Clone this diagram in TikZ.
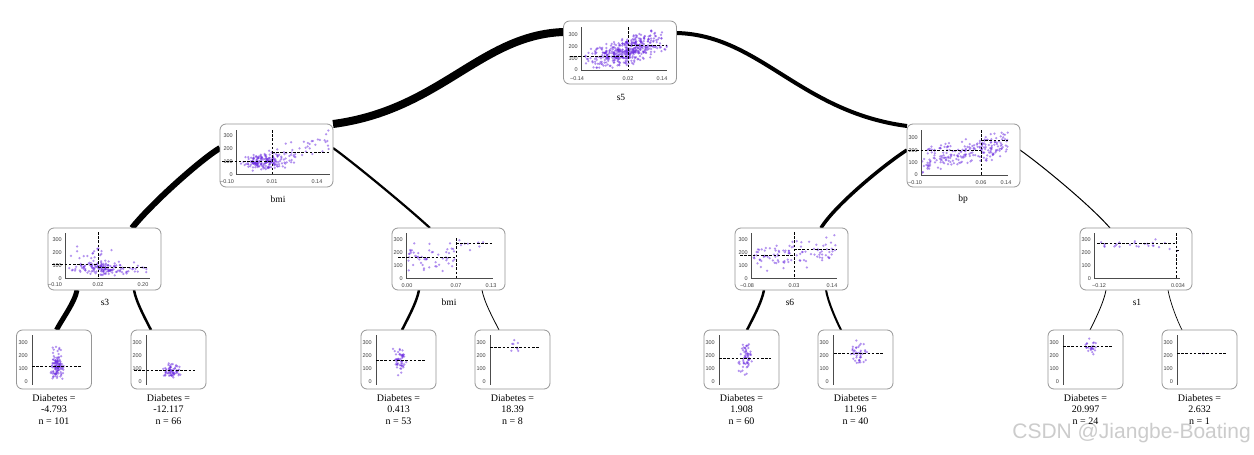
\documentclass[tikz,border=0pt]{standalone}
\usepackage{fontspec}
\setmainfont{Liberation Serif}
\setsansfont{Liberation Sans}
\usetikzlibrary{backgrounds}
\definecolor{pts}{RGB}{105,40,225}
\definecolor{boxc}{RGB}{150,150,150}
\newcommand{\drawscat}[9]{% N, xa, xb, y0, scale, c0, c1, noise, t-expression
  \foreach \sci in {1,...,#1}{%
    \pgfmathsetmacro{\myT}{#9}%
    \pgfmathsetmacro{\myX}{#2+(#3-#2)*\myT}%
    \pgfmathsetmacro{\myV}{max(20,min(345,#6+#7*\myT+#8*(rnd+rnd-1)))}%
    \fill[dotpt] (\myX,{#4-#5*\myV}) circle[radius=1.25];%
  }}
\newcommand{\ylabs}[4]{% xright, y0, scale, prefix
  \foreach \yv in {0,100,200,300}{\node[tk,anchor=east] (#4\yv) at (#1,{#2-#3*\yv}) {\yv};}}
\newcommand{\leafaxis}[2]{% left x, prefix
  \draw[axl] ({#1+15},335) -- ({#1+15},385);
  \ylabs{#1+11}{381.7}{0.1313}{#2}}
\begin{document}
\begin{tikzpicture}[x=1pt,y=-1pt,
  ibox/.style={draw=boxc, line width=0.8pt, rounded corners=6pt, fill=white, minimum width=113pt, minimum height=63pt, inner sep=0pt, outer sep=0pt},
  lbox/.style={ibox, minimum width=75pt, minimum height=59pt},
  edge/.style={draw=black, line cap=butt},
  dotpt/.style={fill=pts, fill opacity=0.5},
  axl/.style={draw=black!70, line width=0.9pt},
  dsh/.style={draw=black, line width=0.9pt, dash pattern=on 2.6pt off 1.6pt},
  tk/.style={font=\sffamily\fontsize{5.5}{6}\selectfont, text=black!75, inner sep=0pt},
  lab/.style={font=\fontsize{9.5}{11}\selectfont, inner sep=0pt},
  leaftxt/.style={font=\fontsize{10}{11.5}\selectfont, align=center, inner sep=0pt}]
\pgfmathsetseed{42}
\useasboundingbox (0,0) rectangle (1254,455);
\begin{scope}[on background layer]
\fill[white] (0,0) rectangle (1254,455);
\end{scope}

% watermark
\node[font=\sffamily\fontsize{21}{24}\selectfont, text=black!20, anchor=east, inner sep=0pt] (wm) at (1251,433) {CSDN @Jiangbe-Boating};

% boxes
\node[ibox] (root) at (620,52.5) {};
\node[ibox] (bmi) at (276.5,155.5) {};
\node[ibox] (bp) at (963.5,155.5) {};
\node[ibox, minimum height=62pt] (s3) at (104.5,259) {};
\node[ibox, minimum height=62pt] (bmiB) at (448.5,259) {};
\node[ibox, minimum height=62pt] (s6) at (791.5,259) {};
\node[ibox, minimum height=62pt, minimum width=112pt] (s1) at (1136,259) {};
\node[lbox] (L1) at (54,359.5) {};
\node[lbox] (L2) at (168.5,359.5) {};
\node[lbox] (L3) at (398.5,359.5) {};
\node[lbox] (L4) at (512.5,359.5) {};
\node[lbox] (L5) at (741.5,359.5) {};
\node[lbox] (L6) at (855.5,359.5) {};
\node[lbox] (L7) at (1085.5,359.5) {};
\node[lbox] (L8) at (1199.5,359.5) {};

% edges
\begin{scope}[on background layer]
\draw[edge, line width=8pt] ([yshift=-11pt]root.north west) .. controls +(-83,3) and +(107,-14) .. (bmi.north east);
\draw[edge, line width=4pt] ([yshift=-12pt]root.north east) .. controls +(83,2) and +(-107,-14) .. ([yshift=-2pt]bp.north west);
\draw[edge, line width=6pt] ([yshift=-24pt]bmi.north west) .. controls +(-20,12) and +(18,-23) .. ([xshift=-29pt]s3.north east);
\draw[edge, line width=2.2pt] ([yshift=-24pt]bmi.north east) .. controls +(17,12) and +(-25,-23) .. ([xshift=38pt]bmiB.north west);
\draw[edge, line width=3.5pt] ([yshift=-26pt]bp.north west) .. controls +(-22,14) and +(14,-23) .. ([xshift=-27pt]s6.north east);
\draw[edge, line width=1pt] ([yshift=-26pt]bp.north east) .. controls +(20,14) and +(-20,-23) .. ([xshift=30pt]s1.north west);
\draw[edge, line width=5pt] ([xshift=29pt]s3.south west) .. controls +(-2,12) and +(5,-10) .. ([xshift=40pt]L1.north west);
\draw[edge, line width=2.5pt] ([xshift=-27pt]s3.south east) .. controls +(2,12) and +(-5,-10) .. ([xshift=20pt]L2.north west);
\draw[edge, line width=2.5pt] ([xshift=27pt]bmiB.south west) .. controls +(-2,12) and +(5,-10) .. ([xshift=41pt]L3.north west);
\draw[edge, line width=0.8pt] ([xshift=-23pt]bmiB.south east) .. controls +(2,12) and +(-5,-10) .. ([xshift=24pt]L4.north west);
\draw[edge, line width=2.5pt] ([xshift=29pt]s6.south west) .. controls +(-2,12) and +(5,-10) .. ([xshift=43pt]L5.north west);
\draw[edge, line width=2pt] ([xshift=-22pt]s6.south east) .. controls +(2,12) and +(-5,-10) .. ([xshift=23pt]L6.north west);
\draw[edge, line width=0.8pt] ([xshift=26pt]s1.south west) .. controls +(-2,12) and +(5,-10) .. ([xshift=42pt]L7.north west);
\draw[edge, line width=0.7pt] ([xshift=-24pt]s1.south east) .. controls +(2,12) and +(-5,-10) .. ([xshift=20pt]L8.north west);
\end{scope}

% ---- root s5
\drawscat{440}{583}{668}{70}{0.1167}{60}{200}{130}{(rnd+rnd)/2}
\draw[axl] (581,27) -- (581,70) -- (667,70);
\ylabs{578}{70}{0.1167}{ry}
\node[tk] (rx1) at (577,79) {−0.14};
\node[tk] (rx2) at (628,79) {0.02};
\node[tk] (rx3) at (662,79) {0.14};
\draw[dsh] (628,27) -- (628,70);
\draw[dsh] (570,56.7) -- (628,56.7);
\draw[dsh] (628,45) -- (667,45);
\node[lab] (s5lab) at (621,97) {s5};

% ---- bmi
\drawscat{170}{238}{295}{174.3}{0.1287}{70}{60}{75}{(rnd+rnd)/2}
\drawscat{50}{255}{330}{174.3}{0.1287}{100}{160}{110}{rnd}
\draw[axl] (236,130) -- (236,174.3) -- (330,174.3);
\ylabs{233}{174.3}{0.1287}{by}
\node[tk] (bx1) at (227,182) {−0.10};
\node[tk] (bx2) at (272,182) {0.01};
\node[tk] (bx3) at (317,182) {0.14};
\draw[dsh] (272,130) -- (272,174.3);
\draw[dsh] (222,161.4) -- (272,161.4);
\draw[dsh] (272,152.3) -- (330,152.3);
\node[lab] (bmilab) at (278,199) {bmi};

% ---- bp
\drawscat{220}{922}{1008}{175}{0.1233}{110}{150}{120}{rnd}
\draw[axl] (921,130) -- (921,175) -- (1008,175);
\ylabs{918}{175}{0.1233}{py}
\node[tk] (px1) at (915,182.7) {−0.10};
\node[tk] (px2) at (981,182.7) {0.06};
\node[tk] (px3) at (1006,182.7) {0.14};
\draw[dsh] (981,130) -- (981,175);
\draw[dsh] (908,150.3) -- (981,150.3);
\draw[dsh] (981,140.7) -- (1008,140.7);
\node[lab] (bplab) at (963,199) {bp};

% ---- s3
\drawscat{130}{66}{140}{278.3}{0.1277}{80}{0}{65}{(rnd+rnd)/2}
\drawscat{25}{70}{112}{278.3}{0.1277}{170}{0}{130}{rnd}
\drawscat{12}{108}{150}{278.3}{0.1277}{80}{0}{70}{rnd}
\draw[axl] (65,233) -- (65,278.3) -- (150,278.3);
\ylabs{62}{278.3}{0.1277}{cy}
\node[tk] (cx1) at (55,285) {−0.10};
\node[tk] (cx2) at (98,285) {0.02};
\node[tk] (cx3) at (143,285) {0.20};
\draw[dsh] (98,232) -- (98,278.3);
\draw[dsh] (52,264) -- (98,264);
\draw[dsh] (98,267.7) -- (147,267.7);
\node[lab] (s3lab) at (105,302) {s3};

% ---- bmi (second)
\drawscat{53}{408}{455}{278.3}{0.1277}{165}{0}{130}{rnd}
\drawscat{8}{458}{492}{278.3}{0.1277}{270}{0}{60}{rnd}
\draw[axl] (406,233) -- (406,278.3) -- (493,278.3);
\ylabs{403}{278.3}{0.1277}{dy}
\node[tk] (dx1) at (407,286) {0.00};
\node[tk] (dx2) at (456,286) {0.07};
\node[tk] (dx3) at (491,286) {0.13};
\draw[dsh] (456,238) -- (456,278.3);
\draw[dsh] (398,257.3) -- (456,257.3);
\draw[dsh] (456,243.3) -- (493,243.3);
\node[lab] (bmiBlab) at (449,302) {bmi};

% ---- s6
\drawscat{100}{753}{836}{278.3}{0.1277}{150}{70}{130}{rnd}
\draw[axl] (751,233) -- (751,278.3) -- (837,278.3);
\ylabs{748}{278.3}{0.1277}{ey}
\node[tk] (ex1) at (747,286) {−0.08};
\node[tk] (ex2) at (794,286) {0.03};
\node[tk] (ex3) at (832,286) {0.14};
\draw[dsh] (794,232) -- (794,278.3);
\draw[dsh] (740,255.7) -- (794,255.7);
\draw[dsh] (794,249) -- (837,249);
\node[lab] (s6lab) at (790,302) {s6};

% ---- s1
\drawscat{24}{1100}{1170}{278.3}{0.1277}{272}{0}{55}{rnd}
\fill[dotpt] (1177,250.8) circle[radius=1.25];
\draw[axl] (1094,233) -- (1094,278.3) -- (1180,278.3);
\ylabs{1091}{278.3}{0.1277}{fy}
\node[tk] (fx1) at (1099,286) {−0.12};
\node[tk] (fx2) at (1178,286) {0.034};
\draw[dsh] (1176,233) -- (1176,278.3);
\draw[dsh] (1097,243.3) -- (1176,243.3);
\draw[dsh] (1176,250) -- (1180,250);
\node[lab] (s1lab) at (1137,302) {s1};

% ---- leaves
\drawscat{101}{50}{64}{381.7}{0.1313}{115}{0}{95}{(rnd+rnd)/2}
\drawscat{10}{52}{62}{381.7}{0.1313}{230}{0}{80}{rnd}
\leafaxis{17}{la}
\draw[dsh] (32,366.6) -- (81,366.6);
\node[leaftxt] (t1) at (54,409.5) {Diabetes =\\-4.793\\n = 101};

\drawscat{66}{161}{182}{381.7}{0.1313}{85}{0}{60}{(rnd+rnd)/2}
\leafaxis{131}{lb}
\draw[dsh] (134,370.9) -- (195,370.9);
\node[leaftxt] (t2) at (168.5,409.5) {Diabetes =\\-12.117\\n = 66};

\drawscat{53}{392}{407}{381.7}{0.1313}{165}{0}{125}{(rnd+rnd)/2}
\leafaxis{361}{lc}
\draw[dsh] (376,360.3) -- (426,360.3);
\node[leaftxt] (t3) at (398.5,409.5) {Diabetes =\\0.413\\n = 53};

\drawscat{8}{511}{521}{381.7}{0.1313}{262}{0}{65}{rnd}
\leafaxis{475}{ld}
\draw[dsh] (490,347.8) -- (540,347.8);
\node[leaftxt] (t4) at (512.5,409.5) {Diabetes =\\18.39\\n = 8};

\drawscat{60}{736}{754}{381.7}{0.1313}{175}{0}{135}{(rnd+rnd)/2}
\leafaxis{704}{le}
\draw[dsh] (719,358.7) -- (771,358.7);
\node[leaftxt] (t5) at (741.5,409.5) {Diabetes =\\1.908\\n = 60};

\drawscat{40}{850}{868}{381.7}{0.1313}{218}{0}{100}{(rnd+rnd)/2}
\leafaxis{818}{lf}
\draw[dsh] (834,353.1) -- (883,353.1);
\node[leaftxt] (t6) at (855.5,409.5) {Diabetes =\\11.96\\n = 40};

\drawscat{24}{1084}{1100}{381.7}{0.1313}{265}{0}{70}{(rnd+rnd)/2}
\leafaxis{1048}{lg}
\draw[dsh] (1063,346.9) -- (1112,346.9);
\node[leaftxt] (t7) at (1085.5,409.5) {Diabetes =\\20.997\\n = 24};

\fill[dotpt] (1203,353.5) circle[radius=1.25];
\leafaxis{1162}{lh}
\draw[dsh] (1177,353.5) -- (1227,353.5);
\node[leaftxt] (t8) at (1199.5,409.5) {Diabetes =\\2.632\\n = 1};
\end{tikzpicture}
\end{document}
